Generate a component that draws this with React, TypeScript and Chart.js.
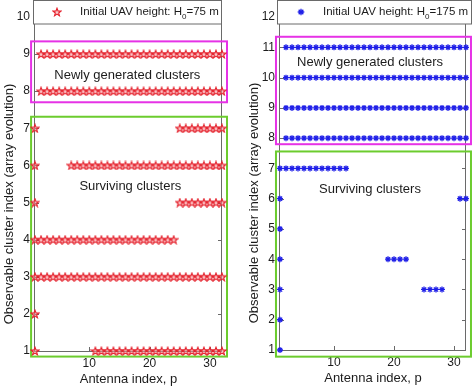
import React, { useEffect, useRef } from "react";
import { Chart, registerables } from "chart.js";

Chart.register(...registerables);

const FONT = '"Liberation Sans", Arial, Helvetica, sans-serif';

// ---------- data ----------
const antennaTicks = [10, 20, 30];

// Left panel: initial UAV height H0 = 75 m
const h75Label = "75";
const h75ClusterIds = [1, 2, 3, 4, 5, 6, 7, 8, 9];
const h75Cluster1 = [1, 11, 12, 13, 14, 15, 16, 17, 18, 19, 20, 21, 22, 23, 24, 25, 26, 27, 28, 29, 30, 31, 32];
const h75Cluster2 = [1];
const h75Cluster3 = [1, 2, 3, 4, 5, 6, 7, 8, 9, 10, 11, 12, 13, 14, 15, 16, 17, 18, 19, 20, 21, 22, 23, 24, 25, 26, 27, 28, 29, 30, 31, 32];
const h75Cluster4 = [1, 2, 3, 4, 5, 6, 7, 8, 9, 10, 11, 12, 13, 14, 15, 16, 17, 18, 19, 20, 21, 22, 23, 24];
const h75Cluster5 = [1, 25, 26, 27, 28, 29, 30, 31, 32];
const h75Cluster6 = [1, 7, 8, 9, 10, 11, 12, 13, 14, 15, 16, 17, 18, 19, 20, 21, 22, 23, 24, 25, 26, 27, 28, 29, 30, 31, 32];
const h75Cluster7 = [1, 25, 26, 27, 28, 29, 30, 31, 32];
const h75Cluster8 = [2, 3, 4, 5, 6, 7, 8, 9, 10, 11, 12, 13, 14, 15, 16, 17, 18, 19, 20, 21, 22, 23, 24, 25, 26, 27, 28, 29, 30, 31, 32];
const h75Cluster9 = [2, 3, 4, 5, 6, 7, 8, 9, 10, 11, 12, 13, 14, 15, 16, 17, 18, 19, 20, 21, 22, 23, 24, 25, 26, 27, 28, 29, 30, 31, 32];
const h75Clusters = [h75Cluster1, h75Cluster2, h75Cluster3, h75Cluster4, h75Cluster5, h75Cluster6, h75Cluster7, h75Cluster8, h75Cluster9];

// Right panel: initial UAV height H0 = 175 m
const h175Label = "175";
const h175ClusterIds = [1, 2, 3, 4, 5, 6, 7, 8, 9, 10, 11];
const h175Cluster1 = [1];
const h175Cluster2 = [1];
const h175Cluster3 = [1, 25, 26, 27, 28];
const h175Cluster4 = [1, 19, 20, 21, 22];
const h175Cluster5 = [1];
const h175Cluster6 = [1, 31, 32];
const h175Cluster7 = [1, 2, 3, 4, 5, 6, 7, 8, 9, 10, 11, 12];
const h175Cluster8 = [2, 3, 4, 5, 6, 7, 8, 9, 10, 11, 12, 13, 14, 15, 16, 17, 18, 19, 20, 21, 22, 23, 24, 25, 26, 27, 28, 29, 30, 31, 32];
const h175Cluster9 = [2, 3, 4, 5, 6, 7, 8, 9, 10, 11, 12, 13, 14, 15, 16, 17, 18, 19, 20, 21, 22, 23, 24, 25, 26, 27, 28, 29, 30, 31, 32];
const h175Cluster10 = [2, 3, 4, 5, 6, 7, 8, 9, 10, 11, 12, 13, 14, 15, 16, 17, 18, 19, 20, 21, 22, 23, 24, 25, 26, 27, 28, 29, 30, 31, 32];
const h175Cluster11 = [2, 3, 4, 5, 6, 7, 8, 9, 10, 11, 12, 13, 14, 15, 16, 17, 18, 19, 20, 21, 22, 23, 24, 25, 26, 27, 28, 29, 30, 31, 32];
const h175Clusters = [h175Cluster1, h175Cluster2, h175Cluster3, h175Cluster4, h175Cluster5, h175Cluster6, h175Cluster7, h175Cluster8, h175Cluster9, h175Cluster10, h175Cluster11];

const newLabel = "Newly generated clusters";
const survLabel = "Surviving clusters";
const xTitle = "Antenna index, p";
const yTitle = "Observable cluster index (array evolution)";

// ---------- drawing helpers ----------
const MAGENTA = "#e632e6";
const GREEN = "#6ccc2e";
const FRAME = "#6a6a6a";
const TEXT = "#1c1c1c";
const RED = "#e41f2a";
const BLUE = "#1f1fe8";

function makePentagram(color: string): HTMLCanvasElement {
  const c = document.createElement("canvas");
  c.width = 10;
  c.height = 10;
  const g = c.getContext("2d")!;
  const R = 4.2;
  const r = R * 0.42;
  g.beginPath();
  for (let k = 0; k < 10; k++) {
    const ang = -Math.PI / 2 + (k * Math.PI) / 5;
    const rad = k % 2 === 0 ? R : r;
    const px = 5 + rad * Math.cos(ang);
    const py = 5.4 + rad * Math.sin(ang);
    if (k === 0) g.moveTo(px, py);
    else g.lineTo(px, py);
  }
  g.closePath();
  g.fillStyle = "rgba(250,150,155,0.55)";
  g.fill();
  g.strokeStyle = color;
  g.lineWidth = 1.1;
  g.stroke();
  return c;
}

function drawAsterisk(ctx: CanvasRenderingContext2D, x: number, y: number, r: number, color: string) {
  ctx.save();
  ctx.strokeStyle = color;
  ctx.lineWidth = 1.3;
  ctx.beginPath();
  const d = r * Math.SQRT1_2;
  ctx.moveTo(x - r, y); ctx.lineTo(x + r, y);
  ctx.moveTo(x, y - r); ctx.lineTo(x, y + r);
  ctx.moveTo(x - d, y - d); ctx.lineTo(x + d, y + d);
  ctx.moveTo(x - d, y + d); ctx.lineTo(x + d, y - d);
  ctx.stroke();
  ctx.restore();
}

type Box = { x0: number; x1: number; y0: number; y1: number; color: string };
type Note = { x: number; y: number; text: string };

interface PanelSpec {
  ids: number[];
  clusters: number[][];
  yMax: number;
  yAxisWidth: number;
  rightPad: number;
  xAxisHeight: number;
  marker: "pentagram" | "asterisk";
  color: string;
  hLabel: string;
  boxes: Box[];
  notes: Note[];
  legendEdges: [number, number];
  legendMarkerDx: number;
  legendTextDx: number;
  yTitleCenter: number;
}

const leftSpec: PanelSpec = {
  ids: h75ClusterIds,
  clusters: h75Clusters,
  yMax: 10.32,
  yAxisWidth: 35,
  rightPad: 15,
  xAxisHeight: 36,
  marker: "pentagram",
  color: RED,
  hLabel: h75Label,
  boxes: [
    { x0: 0.35, x1: 32.83, y0: 7.7, y1: 9.34, color: MAGENTA },
    { x0: 0.35, x1: 32.83, y0: 0.85, y1: 7.31, color: GREEN },
  ],
  notes: [
    { x: 16.3, y: 8.43, text: newLabel },
    { x: 16.8, y: 5.43, text: survLabel },
  ],
  legendEdges: [-2, 0],
  legendMarkerDx: 22,
  legendTextDx: 45,
  yTitleCenter: 204,
};

const rightSpec: PanelSpec = {
  ids: h175ClusterIds,
  clusters: h175Clusters,
  yMax: 12.39,
  yAxisWidth: 43,
  rightPad: 8,
  xAxisHeight: 37,
  marker: "asterisk",
  color: BLUE,
  hLabel: h175Label,
  boxes: [
    { x0: 0.33, x1: 32.83, y0: 7.8, y1: 11.35, color: MAGENTA },
    { x0: 0.33, x1: 32.83, y0: 0.78, y1: 7.56, color: GREEN },
  ],
  notes: [
    { x: 16, y: 10.5, text: newLabel },
    { x: 16, y: 6.31, text: survLabel },
  ],
  legendEdges: [-3.5, 5],
  legendMarkerDx: 21,
  legendTextDx: 43,
  yTitleCenter: 203,
};

function buildConfig(spec: PanelSpec, star: HTMLCanvasElement): any {
  const points: { x: number; y: number }[] = [];
  spec.ids.forEach((id, i) => {
    spec.clusters[i].forEach((p) => points.push({ x: p, y: id }));
  });

  const decor = {
    id: "panelDecor",
    beforeDatasetsDraw(chart: any) {
      const { ctx, chartArea: a, scales } = chart;
      const xs = scales.x;
      const ys = scales.y;
      ctx.save();
      ctx.strokeStyle = FRAME;
      ctx.lineWidth = 1;
      ctx.strokeRect(Math.round(a.left) - 0.5, Math.round(a.top) + 0.5, Math.round(a.right - a.left), Math.round(a.bottom - a.top));
      ctx.beginPath();
      ys.ticks.forEach((t: any) => {
        const py = Math.round(ys.getPixelForValue(t.value)) + 0.5;
        ctx.moveTo(a.left, py); ctx.lineTo(a.left + 4, py);
        ctx.moveTo(a.right - 4, py); ctx.lineTo(a.right, py);
      });
      xs.ticks.forEach((t: any) => {
        const px = Math.round(xs.getPixelForValue(t.value)) + 0.5;
        ctx.moveTo(px, a.bottom); ctx.lineTo(px, a.bottom - 4);
      });
      ctx.stroke();
      ctx.lineWidth = 2;
      spec.boxes.forEach((b) => {
        const x0 = xs.getPixelForValue(b.x0);
        const x1 = xs.getPixelForValue(b.x1);
        const y0 = ys.getPixelForValue(b.y1);
        const y1 = ys.getPixelForValue(b.y0);
        ctx.strokeStyle = b.color;
        ctx.strokeRect(x0, y0, x1 - x0, y1 - y0);
      });
      ctx.restore();
    },
    afterDatasetsDraw(chart: any) {
      const { ctx, chartArea: a, scales } = chart;
      const xs = scales.x;
      const ys = scales.y;
      ctx.save();
      ctx.fillStyle = TEXT;
      ctx.textBaseline = "middle";
      ctx.textAlign = "center";
      ctx.font = `13px ${FONT}`;
      spec.notes.forEach((n) => ctx.fillText(n.text, xs.getPixelForValue(n.x), ys.getPixelForValue(n.y)));

      // legend
      const lx0 = a.left + spec.legendEdges[0];
      const lx1 = a.right + spec.legendEdges[1];
      ctx.fillStyle = "#ffffff";
      ctx.fillRect(lx0, 0, lx1 - lx0, 24);
      ctx.strokeStyle = FRAME;
      ctx.lineWidth = 1;
      ctx.strokeRect(Math.round(lx0) + 0.5, 0.5, Math.round(lx1 - lx0) - 1, 23.5);
      const mx = a.left + spec.legendMarkerDx;
      if (spec.marker === "pentagram") {
        ctx.drawImage(star, mx - star.width / 2, 12 - star.height / 2);
      } else {
        drawAsterisk(ctx, mx, 12, 3.3, spec.color);
      }
      ctx.fillStyle = TEXT;
      ctx.textAlign = "left";
      let tx = a.left + spec.legendTextDx;
      ctx.font = `11.5px ${FONT}`;
      const part1 = "Initial UAV height: H";
      ctx.fillText(part1, tx, 12);
      tx += ctx.measureText(part1).width;
      ctx.font = `8px ${FONT}`;
      ctx.fillText("0", tx, 16.5);
      tx += ctx.measureText("0").width;
      ctx.font = `11.5px ${FONT}`;
      ctx.fillText(`=${spec.hLabel} m`, tx, 12);

      // axis titles
      ctx.textAlign = "center";
      ctx.font = `13px ${FONT}`;
      ctx.fillText(xTitle, (a.left + a.right) / 2, a.bottom + 28);
      ctx.save();
      ctx.translate(a.left - 26, spec.yTitleCenter);
      ctx.rotate(-Math.PI / 2);
      ctx.fillText(yTitle, 0, 0);
      ctx.restore();
      ctx.restore();
    },
  };

  const dataset: any = {
    data: points,
    showLine: false,
    clip: false,
    borderColor: spec.color,
    backgroundColor: spec.color,
  };
  if (spec.marker === "pentagram") {
    dataset.pointStyle = star;
    dataset.pointRadius = 4;
  } else {
    dataset.pointStyle = "star";
    dataset.pointRadius = 3;
    dataset.borderWidth = 1.3;
  }

  return {
    type: "scatter",
    data: { datasets: [dataset] },
    plugins: [decor],
    options: {
      animation: false,
      responsive: false,
      events: [],
      layout: { padding: { left: 0, right: spec.rightPad, top: 0, bottom: 0 } },
      plugins: { legend: { display: false }, tooltip: { enabled: false } },
      scales: {
        x: {
          type: "linear",
          min: 1,
          max: 32,
          grid: { display: false, drawTicks: false, tickLength: 0 },
          border: { display: false },
          afterBuildTicks: (scale: any) => {
            scale.ticks = antennaTicks.map((v) => ({ value: v }));
          },
          ticks: { font: { family: FONT, size: 12 }, color: TEXT, padding: 5, maxRotation: 0 },
          afterFit: (scale: any) => {
            scale.height = spec.xAxisHeight;
            scale.paddingLeft = 0;
            scale.paddingRight = 0;
          },
        },
        y: {
          type: "linear",
          min: 1,
          max: spec.yMax,
          grid: { display: false, drawTicks: false, tickLength: 0 },
          border: { display: false },
          afterBuildTicks: (scale: any) => {
            scale.ticks = spec.ids.concat([spec.ids.length + 1]).map((v) => ({ value: v }));
          },
          ticks: { font: { family: FONT, size: 12 }, color: TEXT, padding: 5 },
          afterFit: (scale: any) => {
            scale.width = spec.yAxisWidth;
            scale.paddingTop = 0;
            scale.paddingBottom = 0;
          },
        },
      },
    },
  };
}

function Panel({ spec }: { spec: PanelSpec }) {
  const ref = useRef<HTMLCanvasElement>(null);
  useEffect(() => {
    if (!ref.current) return;
    const star = makePentagram(RED);
    const chart = new Chart(ref.current, buildConfig(spec, star));
    return () => chart.destroy();
  }, [spec]);
  return <canvas ref={ref} width={237} height={387} style={{ display: "block", width: 237, height: 387 }} />;
}

export default function App() {
  return (
    <div style={{ position: "fixed", left: 0, top: 0, width: 474, height: 387, background: "#fff", display: "flex" }}>
      <Panel spec={leftSpec} />
      <Panel spec={rightSpec} />
    </div>
  );
}
